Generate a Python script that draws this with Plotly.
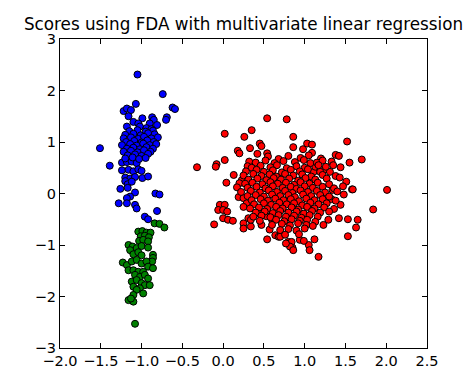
import plotly.graph_objects as go

title_text = "Scores using FDA with multivariate linear regression"

x_tickvals = [-2.0, -1.5, -1.0, -0.5, 0.0, 0.5, 1.0, 1.5, 2.0, 2.5]
x_ticktext = ["\u22122.0", "\u22121.5", "\u22121.0", "\u22120.5", "0.0", "0.5", "1.0", "1.5", "2.0", "2.5"]
y_tickvals = [-3, -2, -1, 0, 1, 2, 3]
y_ticktext = ["\u22123", "\u22122", "\u22121", "0", "1", "2", "3"]

blue_points = [
    (-1.05, 2.31), (-0.74, 1.93), (-0.62, 1.67), (-0.59, 1.64), (-1.07, 1.74), (-1.22, 1.60),
    (-1.18, 1.65), (-1.13, 1.62), (-1.16, 1.50), (-0.69, 1.48), (-0.70, 1.43), (-0.99, 1.46),
    (-0.87, 1.48), (-0.85, 1.43), (-1.10, 1.39), (-1.04, 1.36), (-0.90, 1.36), (-0.81, 1.33),
    (-1.18, 1.30), (-1.02, 1.30), (-0.94, 1.27), (-0.88, 1.25), (-1.51, 0.88), (-1.39, 0.54),
    (-1.24, 0.60), (-1.18, 0.61), (-1.12, 0.62), (-1.06, 0.59), (-1.24, 0.45), (-1.16, 0.46),
    (-1.10, 0.43), (-1.04, 0.47), (-1.00, 0.44), (-1.20, 0.31), (-1.14, 0.29), (-1.08, 0.32),
    (-0.99, 0.30), (-0.92, 0.33), (-1.20, 0.24), (-1.17, 0.18), (-1.12, 0.23), (-1.26, 0.09),
    (-1.17, 0.11), (-1.08, 0.02), (-1.14, -0.06), (-1.18, -0.09), (-0.83, 0.00), (-0.78, -0.02),
    (-1.28, -0.19), (-1.18, -0.19), (-1.08, -0.22), (-1.06, -0.29), (-0.81, -0.34), (-0.96, -0.45),
    (-0.92, -0.50),
    (-1.15, 1.21), (-1.05, 1.23), (-0.95, 1.20), (-0.86, 1.22),
    (-1.20, 1.14), (-1.10, 1.16), (-1.01, 1.13), (-0.92, 1.17), (-0.84, 1.15),
    (-1.22, 1.07), (-1.13, 1.09), (-1.04, 1.06), (-0.97, 1.10), (-0.88, 1.07), (-0.80, 1.09),
    (-1.19, 1.00), (-1.09, 1.02), (-1.00, 0.99), (-0.93, 1.03), (-0.85, 1.00),
    (-1.24, 0.94), (-1.14, 0.96), (-1.06, 0.93), (-0.98, 0.97), (-0.90, 0.94), (-0.82, 0.96),
    (-1.18, 0.87), (-1.10, 0.89), (-1.02, 0.86), (-0.94, 0.90), (-0.86, 0.87),
    (-1.22, 0.81), (-1.13, 0.83), (-1.05, 0.80), (-0.97, 0.84), (-0.89, 0.81),
    (-1.17, 0.74), (-1.08, 0.76), (-1.00, 0.73), (-0.92, 0.77),
    (-1.20, 0.68), (-1.11, 0.70), (-1.03, 0.67), (-0.95, 0.69),
]

green_points = [
    (-0.84, -0.58), (-0.78, -0.59), (-0.72, -0.66),
    (-1.04, -0.74), (-0.99, -0.73), (-0.94, -0.76), (-0.89, -0.76), (-1.01, -0.83), (-0.96, -0.82),
    (-0.91, -0.85), (-1.03, -0.92), (-0.98, -0.90), (-0.92, -0.93),
    (-1.16, -1.00), (-1.11, -1.03), (-1.06, -1.06), (-1.00, -1.02), (-0.92, -1.05),
    (-1.14, -1.10), (-1.10, -1.18), (-1.04, -1.14), (-1.00, -1.20),
    (-0.86, -1.19), (-0.86, -1.25), (-0.87, -1.32),
    (-1.23, -1.34), (-1.18, -1.39), (-1.12, -1.32), (-1.06, -1.29), (-1.00, -1.36), (-0.94, -1.32),
    (-0.92, -1.42), (-0.86, -1.45), (-1.16, -1.49), (-1.10, -1.49), (-1.04, -1.52), (-0.98, -1.52),
    (-1.08, -1.58), (-1.02, -1.62), (-0.96, -1.58), (-0.92, -1.65),
    (-1.12, -1.71), (-1.06, -1.68), (-1.00, -1.74), (-1.10, -1.81), (-0.96, -1.78), (-0.90, -1.78),
    (-1.02, -1.84), (-1.06, -1.87),
    (-1.10, -1.97), (-0.98, -1.94),
    (-1.16, -2.07), (-1.10, -2.10), (-1.13, -2.04),
    (-1.08, -2.53),
]

red_points = [
    (0.54, 1.46), (0.02, 1.16), (0.26, 1.10), (0.35, 1.23), (0.45, 0.97), (0.47, 0.92), (0.18, 0.83),
    (0.20, 0.78), (0.33, 0.88), (0.42, 0.77), (0.54, 0.78), (0.32, 0.62), (0.30, 0.53), (0.02, 0.65),
    (-0.08, 0.57), (-0.09, 0.52), (-0.32, 0.51), (0.13, 0.36), (0.04, 0.21), (0.23, 0.26), (0.20, 0.20),
    (0.17, 0.12), (0.19, -0.07), (0.25, -0.09), (0.29, -0.19), (0.25, -0.26), (-0.04, -0.22),
    (0.02, -0.22), (-0.06, -0.32), (0.00, -0.32), (0.05, -0.35), (0.00, -0.48), (0.06, -0.51),
    (0.12, -0.53), (-0.11, -0.60), (0.25, -0.58), (0.25, -0.68), (0.34, -0.64), (0.31, -0.48),
    (0.34, -0.51), (0.47, -0.61), (0.57, -0.70), (0.54, -0.89), (0.64, -0.81), (0.68, -0.84),
    (0.45, -0.40), (0.53, -0.44), (0.60, -0.51), (0.80, -0.94), (0.85, -1.05),
    (0.78, 1.44), (0.86, 1.10), (0.86, 0.90), (0.98, 0.86), (1.03, 0.97), (1.09, 0.95), (1.09, 0.79),
    (1.52, 1.01), (1.38, 0.75), (1.42, 0.73), (1.55, 0.60), (1.33, 0.62), (1.35, 0.55), (1.44, 0.51),
    (1.25, 0.47), (1.31, 0.42), (1.11, 0.42), (1.13, 0.52), (1.07, 0.59), (1.51, 0.23), (1.58, 0.08),
    (1.34, 0.07), (1.33, -0.11), (1.44, -0.22), (1.53, -0.50), (1.65, -0.51), (1.63, -0.66),
    (1.42, -0.48), (1.29, -0.51), (1.23, -0.61), (1.53, -0.83), (1.12, -0.89), (1.05, -1.00),
    (1.06, -1.10), (1.17, -1.23), (0.94, -0.90), (0.99, -0.92), (0.84, -0.94), (0.82, -1.03),
    (0.86, -1.10), (0.77, -0.97), (0.70, -0.84),
    (1.70, 0.66), (1.59, 0.08), (2.01, 0.07), (1.84, -0.31),
    (0.55, 0.72), (0.68, 0.67), (0.80, 0.73), (0.95, 0.69), (1.05, 0.74), (1.20, 0.68),
    (0.40, 0.60), (0.52, 0.64), (0.63, 0.59), (0.74, 0.63), (0.88, 0.61), (0.99, 0.65), (1.15, 0.60), (1.22, 0.64),
    (0.35, 0.50), (0.46, 0.54), (0.58, 0.51), (0.66, 0.55), (0.78, 0.49), (0.90, 0.53), (1.00, 0.50), (1.17, 0.55), (1.26, 0.52),
    (0.28, 0.43), (0.41, 0.46), (0.50, 0.42), (0.61, 0.45), (0.72, 0.41), (0.83, 0.46), (0.94, 0.43), (1.04, 0.47), (1.19, 0.42),
    (0.25, 0.35), (0.37, 0.38), (0.47, 0.34), (0.57, 0.37), (0.65, 0.33), (0.76, 0.38), (0.86, 0.35), (0.97, 0.37), (1.08, 0.33), (1.22, 0.36), (1.38, 0.34),
    (0.31, 0.27), (0.42, 0.29), (0.53, 0.26), (0.62, 0.30), (0.71, 0.27), (0.81, 0.29), (0.92, 0.25), (1.01, 0.30), (1.13, 0.27), (1.27, 0.29), (1.43, 0.31),
    (0.27, 0.19), (0.36, 0.21), (0.48, 0.18), (0.58, 0.22), (0.67, 0.19), (0.77, 0.21), (0.87, 0.17), (0.95, 0.22), (1.06, 0.19), (1.16, 0.21), (1.30, 0.18),
    (0.30, 0.11), (0.41, 0.13), (0.52, 0.10), (0.61, 0.14), (0.73, 0.11), (0.83, 0.13), (0.90, 0.09), (1.00, 0.14), (1.10, 0.11), (1.22, 0.13), (1.36, 0.10), (1.47, 0.14),
    (0.22, 0.03), (0.34, 0.05), (0.45, 0.02), (0.56, 0.06), (0.66, 0.03), (0.76, 0.05), (0.85, 0.01), (0.95, 0.06), (1.04, 0.03), (1.15, 0.05), (1.25, 0.02), (1.40, 0.04),
    (0.30, -0.05), (0.40, -0.03), (0.50, -0.06), (0.60, -0.02), (0.70, -0.05), (0.80, -0.03), (0.88, -0.07), (0.98, -0.02), (1.08, -0.05), (1.19, -0.03), (1.30, -0.06), (1.48, -0.02),
    (0.35, -0.13), (0.46, -0.11), (0.55, -0.14), (0.64, -0.10), (0.74, -0.13), (0.83, -0.11), (0.93, -0.15), (1.02, -0.10), (1.12, -0.13), (1.22, -0.11), (1.38, -0.14),
    (0.38, -0.21), (0.50, -0.19), (0.59, -0.22), (0.69, -0.18), (0.78, -0.21), (0.87, -0.19), (0.97, -0.23), (1.07, -0.18), (1.17, -0.21), (1.27, -0.19),
    (0.33, -0.29), (0.44, -0.27), (0.54, -0.30), (0.65, -0.26), (0.73, -0.29), (0.84, -0.27), (0.92, -0.31), (1.03, -0.26), (1.12, -0.29), (1.24, -0.27), (1.36, -0.30),
    (0.40, -0.37), (0.51, -0.35), (0.61, -0.38), (0.70, -0.34), (0.80, -0.37), (0.90, -0.35), (0.99, -0.39), (1.09, -0.34), (1.19, -0.37), (1.30, -0.35),
    (0.37, -0.45), (0.47, -0.43), (0.58, -0.46), (0.68, -0.42), (0.77, -0.45), (0.87, -0.43), (0.96, -0.47), (1.06, -0.42), (1.16, -0.45),
    (0.45, -0.53), (0.65, -0.51), (0.75, -0.54), (0.84, -0.50), (0.94, -0.53), (1.03, -0.51), (1.13, -0.55),
    (0.60, -0.61), (0.72, -0.59), (0.82, -0.62), (0.92, -0.58), (1.02, -0.61), (1.10, -0.63),
    (0.70, -0.71), (0.80, -0.69), (0.90, -0.72), (1.00, -0.68),
    (0.76, -0.80), (0.93, -0.79),
]

series = [("blue", blue_points, "#0000ff"), ("green", green_points, "#008000"), ("red", red_points, "#ff0000")]

fig = go.Figure()
for name, pts, col in series:
    fig.add_trace(go.Scatter(
        x=[p[0] for p in pts], y=[p[1] for p in pts], mode="markers", name=name,
        marker=dict(size=7, color=col, line=dict(color="black", width=1)),
        showlegend=False,
    ))

axis_common = dict(
    showline=True, linecolor="black", linewidth=1, mirror="ticks",
    ticks="inside", ticklen=5, tickcolor="black", tickwidth=1,
    showgrid=False, zeroline=False,
    tickfont=dict(family="DejaVu Sans", size=14.5, color="black"),
)

fig.update_layout(
    width=474, height=387,
    margin=dict(l=60, r=47, t=39, b=39),
    paper_bgcolor="white", plot_bgcolor="white",
    title=dict(text=title_text, x=0.5, xref="paper", xanchor="center",
               y=1 - 24 / 387, yref="container", yanchor="middle",
               font=dict(family="DejaVu Sans", size=16.8, color="black")),
    xaxis=dict(range=[-2.0, 2.5], tickvals=x_tickvals, ticktext=x_ticktext, **axis_common),
    yaxis=dict(range=[-3, 3], tickvals=y_tickvals, ticktext=y_ticktext, **axis_common),
)

fig.write_html("out.html", config={"displayModeBar": False},
               post_script="document.body.style.margin='0px';document.body.style.overflow='hidden';")
